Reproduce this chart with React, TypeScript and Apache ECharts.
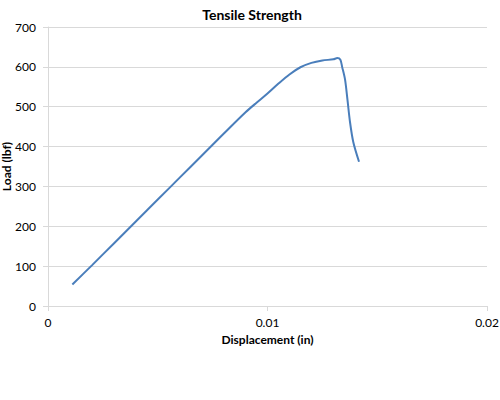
import React, { useEffect, useRef } from "react";
import * as echarts from "echarts";

const displacement = [0.00111, 0.002, 0.003, 0.004, 0.005, 0.006, 0.007, 0.008, 0.009, 0.0095, 0.01, 0.0105, 0.011, 0.0115, 0.012, 0.0125, 0.013, 0.01318, 0.01332, 0.0134, 0.01353, 0.01364, 0.01376, 0.01391, 0.01417];
const load = [54, 102, 157, 212, 267, 322, 377, 432, 486, 510, 533, 558, 581, 599, 610, 616, 619, 622, 618, 600, 569, 519, 461, 411, 362];
const xTicks = [0, 0.01, 0.02];

export default function App() {
  const ref = useRef<HTMLDivElement>(null);
  useEffect(() => {
    const chart = echarts.init(ref.current!, null, { renderer: "svg" });
    const font = "Lato, 'Open Sans', sans-serif";
    chart.setOption({
      animation: false,
      title: {
        text: "Tensile Strength",
        left: 247,
        textAlign: "center",
        top: 2,
        textStyle: { fontFamily: font, fontSize: 14, fontWeight: "bold", color: "#000" },
      },
      grid: { left: 48, right: 13, top: 27, bottom: 94, containLabel: false, outerBoundsMode: "none" },
      xAxis: {
        type: "value",
        min: xTicks[0],
        max: xTicks[xTicks.length - 1],
        interval: 0.01,
        name: "Displacement (in)",
        nameLocation: "middle",
        nameGap: 27,
        nameMoveOverlap: false,
        nameTextStyle: { fontFamily: font, fontSize: 12, fontWeight: "bold", color: "#000" },
        axisLine: { show: true, lineStyle: { color: "#d9d9d9" } },
        axisTick: { show: true, length: 5, lineStyle: { color: "#d9d9d9" } },
        axisLabel: { fontFamily: font, fontSize: 12, color: "#000", margin: 10 },
        splitLine: { show: false },
      },
      yAxis: {
        type: "value",
        min: 0,
        max: 700,
        interval: 100,
        name: "Load (lbf)",
        nameLocation: "middle",
        nameRotate: 90,
        nameGap: 36,
        nameMoveOverlap: false,
        nameTextStyle: { fontFamily: font, fontSize: 12, lineHeight: 12, fontWeight: "bold", color: "#000" },
        axisLine: { show: true, lineStyle: { color: "#d9d9d9" } },
        axisTick: { show: true, length: 5, lineStyle: { color: "#d9d9d9" } },
        axisLabel: { fontFamily: font, fontSize: 12, color: "#000", margin: 12 },
        splitLine: { show: true, lineStyle: { color: "#d9d9d9", width: 1 } },
      },
      series: [
        {
          type: "line",
          data: displacement.map((d, i) => [d, load[i]]),
          showSymbol: false,
          smooth: 0.3,
          lineStyle: { color: "#4a7ebb", width: 2 },
        },
      ],
    });
    return () => chart.dispose();
  }, []);
  return <div ref={ref} style={{ width: 500, height: 400, position: "absolute", left: 0, top: 0 }} />;
}
